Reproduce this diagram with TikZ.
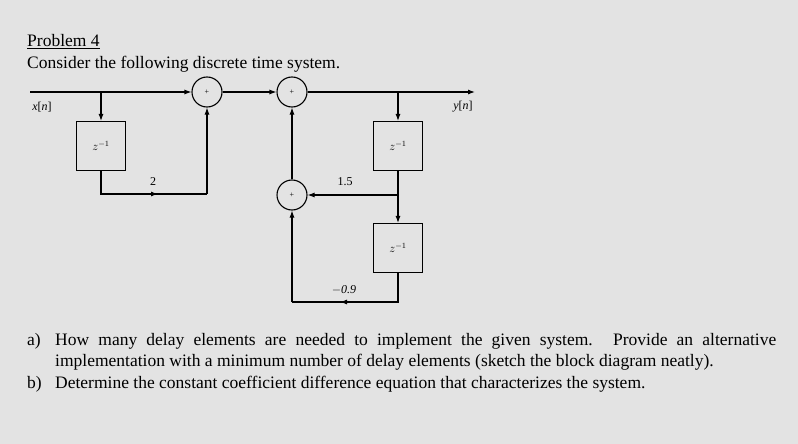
\documentclass[tikz,border=0pt]{standalone}
\usepackage{fontspec}
\setmainfont{Liberation Serif}
\usetikzlibrary{arrows.meta}
\begin{document}
\begin{tikzpicture}[x=1pt,y=-1pt,
  sig/.style={line width=1.1pt},
  arr/.style={sig,-{Latex[length=7pt,width=5pt]}},
  adder/.style={circle,draw,line width=1.1pt,minimum size=30pt,inner sep=0pt,font=\fontsize{8}{8}\selectfont},
  delay/.style={draw,line width=1.1pt,minimum width=49pt,minimum height=49pt,inner sep=0pt,font=\fontsize{12}{12}\selectfont},
  lbl/.style={font=\fontsize{12}{12}\selectfont,inner sep=0pt},
  txt/.style={anchor=base west,inner sep=0pt,font=\fontsize{17.5}{20}\selectfont}]
\fill[gray!22] (0,0) rectangle (798,444);
\useasboundingbox (0,0) rectangle (798,444);
\node[txt] (t1) at (27,47) {\underline{Problem 4}};
\node[txt] (t2) at (27,69) {Consider the following discrete time system.};
% nodes
\coordinate (xin) at (30,92);
\coordinate (b1) at (101,92);
\node[delay] (d1) at (101,146) {$z^{-1}$};
\coordinate (c1) at (101,194);
\coordinate (m1) at (158,194);
\coordinate (c2) at (207,194);
\node[adder] (a1) at (207,92) {+};
\node[adder] (a2) at (292,92) {+};
\node[adder] (a3) at (292,195) {+};
\coordinate (b2) at (398,92);
\coordinate (yout) at (475,92);
\node[delay] (d2) at (398,146) {$z^{-1}$};
\coordinate (j) at (398,195);
\node[delay] (d3) at (398,248) {$z^{-1}$};
\coordinate (e1) at (398,302);
\coordinate (m2) at (340,302);
\coordinate (e2) at (292,302);
% connectors
\draw[arr] (xin) -- (a1);
\draw[arr] (b1) -- (d1);
\draw[sig] (d1) -- (c1) -- (c2);
\draw[arr] (c1) -- (m1);
\draw[arr] (c2) -- (a1);
\draw[arr] (a1) -- (a2);
\draw[arr] (a2) -- (yout);
\draw[arr] (b2) -- (d2);
\draw[sig] (d2) -- (j);
\draw[arr] (j) -- (a3);
\draw[arr] (j) -- (d3);
\draw[sig] (d3) -- (e1) -- (e2);
\draw[arr] (e1) -- (m2);
\draw[arr] (e2) -- (a3);
\draw[arr] (a3) -- (a2);
\node[lbl] (lx) at (42,107) {\itshape x\upshape[\itshape n\upshape]};
\node[lbl] (ly) at (463,107) {\itshape y\upshape[\itshape n\upshape]};
\node[lbl] (l2) at (153,182) {2};
\node[lbl] (l15) at (345,182) {1.5};
\node[lbl] (l09) at (344,290) {\itshape $-$0.9};
% questions
\node[txt] (qa) at (27,345) {a)};
\node[txt] (qa1) at (55,345) {\makebox[721pt][s]{How many delay elements are needed to implement the given system. Provide an alternative}};
\node[txt] (qa2) at (55,366) {implementation with a minimum number of delay elements (sketch the block diagram neatly).};
\node[txt] (qb) at (27,388) {b)};
\node[txt] (qb1) at (55,388) {Determine the constant coefficient difference equation that characterizes the system.};
\end{tikzpicture}
\end{document}
